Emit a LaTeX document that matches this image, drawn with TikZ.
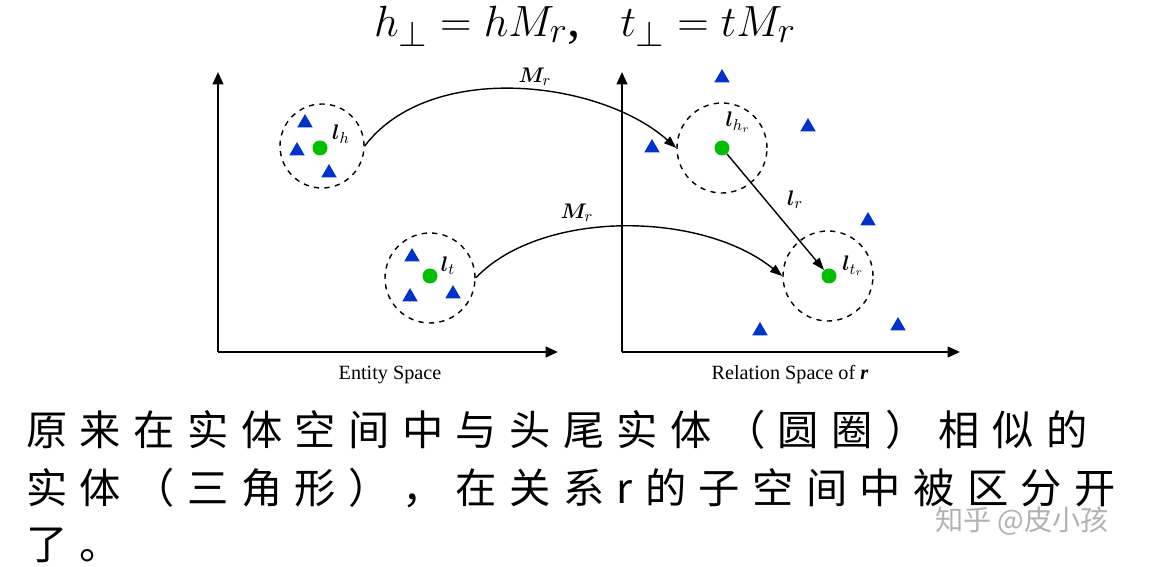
\documentclass[tikz,border=0pt]{standalone}
\usepackage{amsmath,bm}
\usepackage{fontspec}
\setmainfont{Liberation Serif}
\newfontfamily\cjk[LetterSpace=30]{Noto Sans CJK SC}
\newfontfamily\cjkw{Noto Sans CJK SC}
\usetikzlibrary{arrows.meta,shapes.geometric}
\begin{document}
\begin{tikzpicture}[x=0.02cm,y=-0.02cm,
  axis/.style={line width=1.3pt,-{Triangle[length=7pt,width=6pt]}},
  dcirc/.style={circle,draw,dashed,line width=0.8pt,minimum size=#1},
  dot/.style={circle,fill=green!75!black,inner sep=0,minimum size=15*0.02cm},
  tri/.style={regular polygon,regular polygon sides=3,fill=blue!75!cyan!80!black,inner sep=0,minimum size=18*0.02cm},
  conn/.style={line width=0.8pt,-{Triangle[length=7pt,width=5pt]}},
  lab/.style={font=\fontsize{13}{14}\selectfont},
  zh/.style={anchor=west,font=\cjk\fontsize{23.5}{26}\selectfont,inner sep=0}]
\useasboundingbox (0,0) rectangle (1154,567);
\fill[white] (0,0) rectangle (1154,567);
\node[font=\fontsize{30}{32}\selectfont,inner sep=0] (eq) at (585,26) {$h_{\perp}=hM_{r}$,\ \ \ $t_{\perp}=tM_{r}$};
% axes
\coordinate (o1) at (218,352); \coordinate (y1) at (218,72); \coordinate (x1) at (558,352);
\coordinate (o2) at (622,352); \coordinate (y2) at (622,72); \coordinate (x2) at (960,352);
\draw[axis] (o1) -- (y1); \draw[axis] (o1) -- (x1);
\draw[axis] (o2) -- (y2); \draw[axis] (o2) -- (x2);
\node[font=\fontsize{11.5}{12}\selectfont] (es) at (390,375) {Entity Space};
\node[font=\fontsize{11.5}{12}\selectfont] (rs) at (790,375) {Relation Space of \textbf{\textit{r}}};
% circles
\node[dcirc=84*0.02cm] (c1) at (322,146) {};
\node[dcirc=90*0.02cm] (c2) at (430,278) {};
\node[dcirc=90*0.02cm] (c3) at (722,148) {};
\node[dcirc=90*0.02cm] (c4) at (828,276) {};
\node[dot] (d1) at (320,148) {};
\node[dot] (d2) at (430,276) {};
\node[dot] (d3) at (722,148) {};
\node[dot] (d4) at (829,276) {};
\foreach \p/\n in {{(305,123)}/t1,{(297,151)}/t2,{(329,173)}/t3,{(412,257)}/t4,{(410,297)}/t5,{(453,294)}/t6,{(722,78)}/t7,{(808,127)}/t8,{(652,148)}/t9,{(868,221)}/t10,{(760,331)}/t11,{(898,326)}/t12}
  \node[tri] (\n) at \p {};
\node[lab] (lh) at (341,134) {$\bm{l}_h$};
\node[lab] (lt) at (448,266) {$\bm{l}_t$};
\node[lab] (lhr) at (738,122) {$\bm{l}_{h_r}$};
\node[lab] (ltr) at (853,266) {$\bm{l}_{t_r}$};
\node[lab] (lr) at (795,200) {$\bm{l}_r$};
\node[lab] (m1) at (535,77) {$\bm{M}_r$};
\node[lab] (m2) at (577,213) {$\bm{M}_r$};
\draw[conn] (c1.east) .. controls (430,60) and (600,80) .. (c3.west);
\draw[conn] (c2.east) .. controls (540,210) and (700,210) .. (c4.west);
\draw[conn] (d3) -- (d4);
% text
\node[zh] (z1) at (26,430) {原来在实体空间中与头尾实体（圆圈）相似的};
\node[zh] (z2) at (26,488) {实体（三角形），在关系r的子空间中被区分开};
\node[zh] (z3) at (26,545) {了。};
\node[font=\cjkw\fontsize{16}{18}\selectfont,text=gray!60] (wm) at (1022,521) {知乎 @皮小孩};
\end{tikzpicture}
\end{document}
